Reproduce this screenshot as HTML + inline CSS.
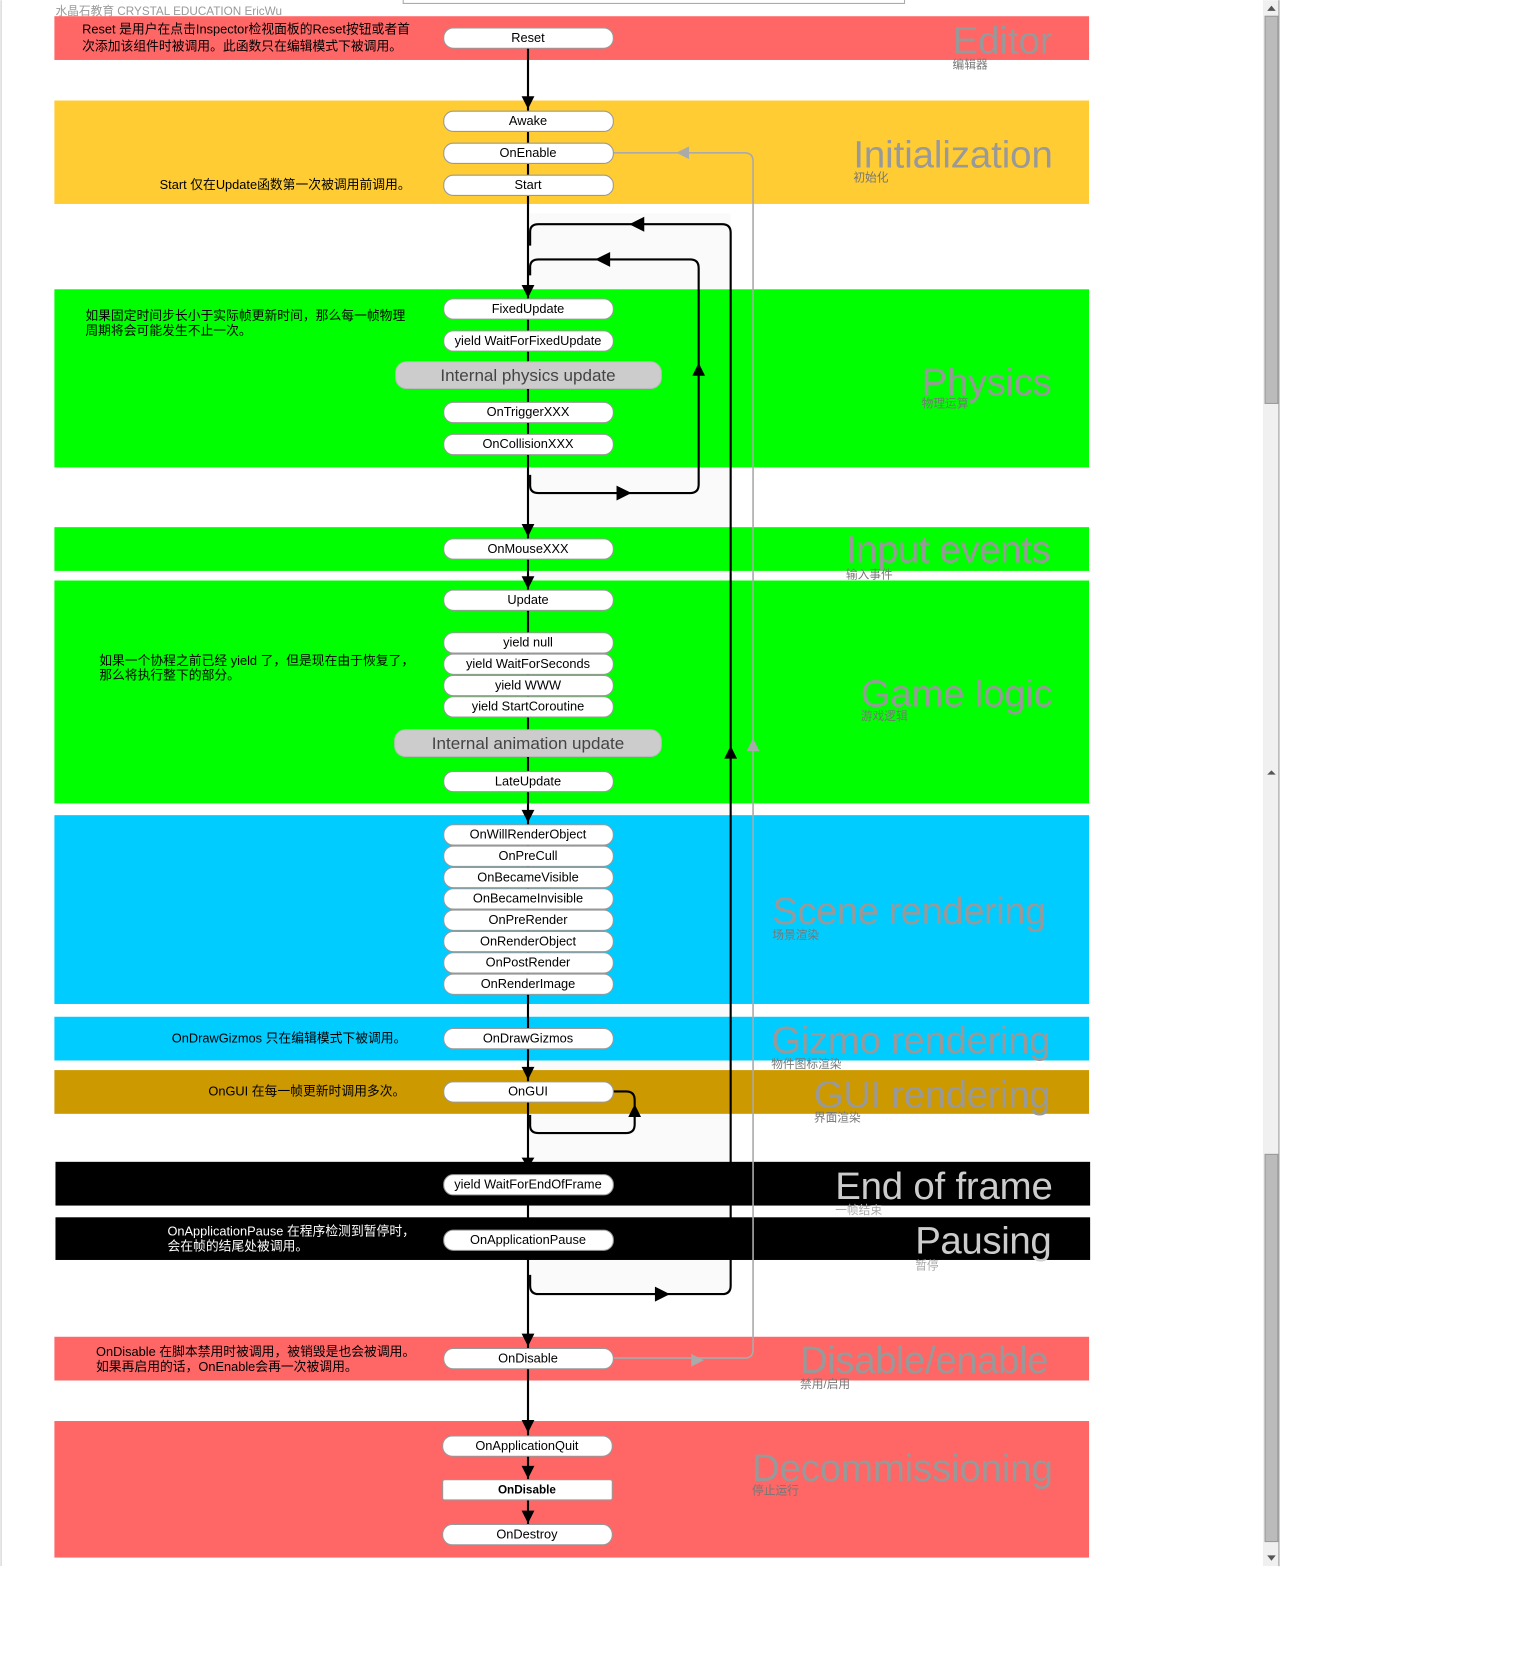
<!DOCTYPE html>
<html><head><meta charset="utf-8"><style>
html,body{margin:0;padding:0;background:#fff;width:1536px;height:1673px;overflow:hidden}
svg{display:block}
text{font-family:"Liberation Sans","Noto Sans CJK SC",sans-serif}
.n{font-size:12px;fill:#000;text-anchor:middle}
.t{font-size:36px;fill:#999}
.s{font-size:11px;fill:#777}
.note{font-size:12px;fill:#000}
</style></head><body>
<svg width="1536" height="1673" viewBox="0 0 1440 1568" xmlns="http://www.w3.org/2000/svg">
<defs>
<marker id="a" viewBox="0 0 10 10" refX="5" refY="5" markerWidth="5" markerHeight="5" orient="auto"><path d="M0,0 L10,5 L0,10z" fill="#000"/></marker>
</defs>
<!-- chrome -->
<line x1="1" y1="0" x2="1" y2="1468" stroke="#ccc"/>
<rect x="378" y="-2" width="470" height="5" fill="#fff" stroke="#aaa"/>
<rect x="1184" y="0" width="15" height="1468" fill="#f0f0f0"/>
<line x1="1199" y1="0" x2="1199" y2="1468" stroke="#999"/>
<rect x="1186" y="15" width="12" height="363" fill="#bbb" stroke="#999"/>
<rect x="1186" y="1082" width="12" height="363" fill="#bbb" stroke="#999"/>
<path d="M1188,10 l4,-5 l4,5z M1188,726 l4,-4 l4,4z M1188,1458 l4,5 l4,-5z" fill="#555"/>
<text x="52" y="14" style="font-size:11px;fill:#999">水晶石教育 CRYSTAL EDUCATION EricWu</text>

<rect x="497" y="200" width="188" height="1013" fill="#fafafa"/>
<!-- bands -->
<rect x="51" y="15" width="970" height="41" fill="#ff6666"/>
<rect x="51" y="94" width="970" height="97" fill="#ffcc33"/>
<rect x="51" y="271" width="970" height="167" fill="#00ff00"/>
<rect x="51" y="494" width="970" height="41" fill="#00ff00"/>
<rect x="51" y="544" width="970" height="209" fill="#00ff00"/>
<rect x="51" y="764" width="970" height="177" fill="#00ccff"/>
<rect x="51" y="953" width="970" height="41" fill="#00ccff"/>
<rect x="51" y="1003" width="970" height="41" fill="#cc9900"/>
<rect x="52" y="1089" width="970" height="41" fill="#000"/>
<rect x="52" y="1141" width="970" height="40" fill="#000"/>
<rect x="51" y="1253" width="970" height="41" fill="#ff6666"/>
<rect x="51" y="1332" width="970" height="128" fill="#ff6666"/>

<!-- titles -->
<g class="t">
<text x="893" y="50" textLength="94">Editor</text>
<text x="800" y="157" textLength="187">Initialization</text>
<text x="864" y="370" textLength="122">Physics</text>
<text x="793" y="527" textLength="192">Input events</text>
<text x="807" y="662" textLength="180">Game logic</text>
<text x="724" y="866" textLength="257">Scene rendering</text>
<text x="723" y="987" textLength="262">Gizmo rendering</text>
<text x="763" y="1038" textLength="222">GUI rendering</text>
<text x="783" y="1124" textLength="204" style="fill:#ccc">End of frame</text>
<text x="858" y="1175" textLength="128" style="fill:#ccc">Pausing</text>
<text x="750" y="1287" textLength="233">Disable/enable</text>
<text x="705" y="1388" textLength="282">Decommissioning</text>
</g>
<g class="s">
<text x="893" y="64">编辑器</text>
<text x="800" y="170">初始化</text>
<text x="864" y="382">物理运算</text>
<text x="793" y="542">输入事件</text>
<text x="807" y="675">游戏逻辑</text>
<text x="724" y="880">场景渲染</text>
<text x="723" y="1001">物件图标渲染</text>
<text x="763" y="1051">界面渲染</text>
<text x="783" y="1138" style="fill:#aaa">一帧结束</text>
<text x="858" y="1190" style="fill:#aaa">暂停</text>
<text x="750" y="1301">禁用/启用</text>
<text x="705" y="1401">停止运行</text>
</g>

<!-- notes -->
<g class="note">
<text x="77" y="31">Reset 是用户在点击Inspector检视面板的Reset按钮或者首</text>
<text x="77" y="47">次添加该组件时被调用。此函数只在编辑模式下被调用。</text>
<text x="385" y="177" text-anchor="end">Start 仅在Update函数第一次被调用前调用。</text>
<text x="80" y="300">如果固定时间步长小于实际帧更新时间，那么每一帧物理</text>
<text x="80" y="314">周期将会可能发生不止一次。</text>
<text x="93" y="623">如果一个协程之前已经 yield 了，但是现在由于恢复了，</text>
<text x="93" y="637">那么将执行整下的部分。</text>
<text x="381" y="977" text-anchor="end">OnDrawGizmos 只在编辑模式下被调用。</text>
<text x="380" y="1027" text-anchor="end">OnGUI 在每一帧更新时调用多次。</text>
<text x="157" y="1158" style="fill:#fff">OnApplicationPause 在程序检测到暂停时，</text>
<text x="157" y="1172" style="fill:#fff">会在帧的结尾处被调用。</text>
<text x="90" y="1271">OnDisable 在脚本禁用时被调用，被销毁是也会被调用。</text>
<text x="90" y="1285">如果再启用的话，OnEnable会再一次被调用。</text>
</g>

<!-- connectors -->
<g fill="none" stroke="#000" stroke-width="2">
<line x1="495" y1="35" x2="495" y2="1438"/>
<path d="M497,230 V217 Q497,210 505,210 H677 Q685,210 685,218 V1205 Q685,1213 677,1213 H505 Q497,1213 497,1205 V1195"/>
<path d="M497,258 V250 Q497,243 505,243 H647 Q655,243 655,251 V454 Q655,462 647,462 H505 Q497,462 497,455 V445"/>
<path d="M575,1023 H587 Q595,1023 595,1031 V1054 Q595,1062 587,1062 H505 Q497,1062 497,1055 V1045"/>
</g>
<path d="M575,1273 H698 Q706,1273 706,1265 V151 Q706,143 698,143 H575" fill="none" stroke="#aaa" stroke-width="1.5"/>
<g fill="#000">
<path d="M489,90 h12 l-6,12z M489,267 h12 l-6,12z M489,491 h12 l-6,12z M489,540 h12 l-6,12z M489,759 h12 l-6,12z M489,1000 h12 l-6,12z M489,1085 h12 l-6,10z M489,1250 h12 l-6,12z M489,1331 h12 l-6,12z M489,1374 h12 l-6,12z M489,1416 h12 l-6,12z"/>
<path d="M590,210 l14,-7 v14z M558,243 l14,-7 v14z M649,352 l6,-12 l6,12z M679,711 l6,-12 l6,12z M589,1047 l6,-12 l6,12z M592,462 l-14,-7 v14z M628,1213 l-14,-7 v14z"/>
</g>
<g fill="#aaa"><path d="M634,143 l12,-6 v12z M660,1275 l-12,-6 v12z M700,704 l6,-12 l6,12z"/></g>

<!-- nodes -->
<g stroke="#999" stroke-width="1" fill="#fff">
<rect x="416" y="26" width="159" height="19" rx="9"/>
<rect x="416" y="104" width="159" height="19" rx="9"/>
<rect x="416" y="134" width="159" height="19" rx="9"/>
<rect x="416" y="164" width="159" height="19" rx="9"/>
<rect x="416" y="280" width="159" height="19" rx="9"/>
<rect x="416" y="310" width="159" height="19" rx="9"/>
<rect x="371" y="339" width="249" height="25" rx="10" fill="#ccc" stroke="#bbb"/>
<rect x="416" y="377" width="159" height="19" rx="9"/>
<rect x="416" y="407" width="159" height="19" rx="9"/>
<rect x="416" y="505" width="159" height="19" rx="9"/>
<rect x="416" y="553" width="159" height="19" rx="9"/>
<rect x="416" y="593" width="159" height="19" rx="9"/>
<rect x="416" y="613" width="159" height="19" rx="9"/>
<rect x="416" y="633" width="159" height="19" rx="9"/>
<rect x="416" y="653" width="159" height="19" rx="9"/>
<rect x="370" y="684" width="250" height="25" rx="10" fill="#ccc" stroke="#bbb"/>
<rect x="416" y="723" width="159" height="19" rx="9"/>
<rect x="416" y="773" width="159" height="19" rx="9"/>
<rect x="416" y="793" width="159" height="19" rx="9"/>
<rect x="416" y="813" width="159" height="19" rx="9"/>
<rect x="416" y="833" width="159" height="19" rx="9"/>
<rect x="416" y="853" width="159" height="19" rx="9"/>
<rect x="416" y="873" width="159" height="19" rx="9"/>
<rect x="416" y="893" width="159" height="19" rx="9"/>
<rect x="416" y="913" width="159" height="19" rx="9"/>
<rect x="416" y="964" width="159" height="19" rx="9"/>
<rect x="416" y="1014" width="159" height="19" rx="9"/>
<rect x="416" y="1101" width="159" height="19" rx="9"/>
<rect x="416" y="1153" width="159" height="19" rx="9"/>
<rect x="416" y="1264" width="159" height="19" rx="9"/>
<rect x="415" y="1346" width="159" height="19" rx="9"/>
<rect x="415" y="1387" width="159" height="19" rx="2"/>
<rect x="415" y="1429" width="159" height="19" rx="9"/>
</g>
<g class="n">
<text x="495" y="39">Reset</text>
<text x="495" y="117">Awake</text>
<text x="495" y="147">OnEnable</text>
<text x="495" y="177">Start</text>
<text x="495" y="293">FixedUpdate</text>
<text x="495" y="323">yield WaitForFixedUpdate</text>
<text x="495" y="357" style="font-size:16px;fill:#444">Internal physics update</text>
<text x="495" y="390">OnTriggerXXX</text>
<text x="495" y="420">OnCollisionXXX</text>
<text x="495" y="518">OnMouseXXX</text>
<text x="495" y="566">Update</text>
<text x="495" y="606">yield null</text>
<text x="495" y="626">yield WaitForSeconds</text>
<text x="495" y="646">yield WWW</text>
<text x="495" y="666">yield StartCoroutine</text>
<text x="495" y="702" style="font-size:16px;fill:#444">Internal animation update</text>
<text x="495" y="736">LateUpdate</text>
<text x="495" y="786">OnWillRenderObject</text>
<text x="495" y="806">OnPreCull</text>
<text x="495" y="826">OnBecameVisible</text>
<text x="495" y="846">OnBecameInvisible</text>
<text x="495" y="866">OnPreRender</text>
<text x="495" y="886">OnRenderObject</text>
<text x="495" y="906">OnPostRender</text>
<text x="495" y="926">OnRenderImage</text>
<text x="495" y="977">OnDrawGizmos</text>
<text x="495" y="1027">OnGUI</text>
<text x="495" y="1114">yield WaitForEndOfFrame</text>
<text x="495" y="1166">OnApplicationPause</text>
<text x="495" y="1277">OnDisable</text>
<text x="494" y="1359">OnApplicationQuit</text>
<text x="494" y="1400" style="font-size:11px;font-weight:bold">OnDisable</text>
<text x="494" y="1442">OnDestroy</text>
</g>
</svg>
</body></html>
